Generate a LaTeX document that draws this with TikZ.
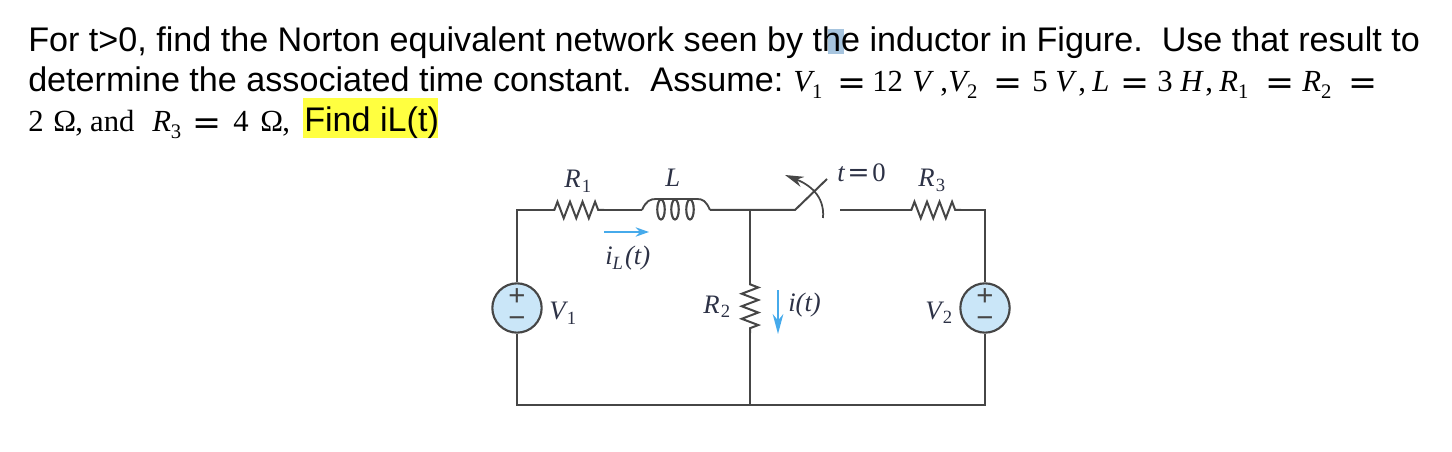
\documentclass[tikz,border=0pt]{standalone}
\usepackage[no-math]{fontspec}
\setmainfont{Liberation Sans}
\newfontfamily\labelfont{Liberation Serif}
\newfontfamily\eqfont{DejaVu Serif}
\usetikzlibrary{arrows.meta,decorations.pathmorphing}
\definecolor{wirecol}{RGB}{70,70,70}
\definecolor{labelcol}{RGB}{45,50,70}
\definecolor{flowblue}{RGB}{70,170,235}
\definecolor{srcfill}{RGB}{202,230,248}
\definecolor{hilite}{RGB}{255,255,64}
\definecolor{selblue}{RGB}{166,196,222}
% one math token in a box of fixed width (px of the reference)
\newcommand{\tok}[2]{\makebox[#1\dimexpr0.75pt\relax][l]{#2}}
\newcommand{\mv}[1]{{\itshape #1}}
\newcommand{\msub}[1]{\raisebox{-0.22em}{\fontsize{15.5}{16}\selectfont #1}}
\newcommand{\meq}{\raisebox{-1.9pt}{\eqfont\fontsize{26}{26}\selectfont =}}
\begin{document}
\begin{tikzpicture}[
    x=0.75pt, y=-0.75pt,
    txt/.style={anchor=base west, inner sep=0pt, font=\fontsize{25.6}{28}\selectfont},
    mth/.style={anchor=base west, inner sep=0pt, font=\labelfont\fontsize{23}{26}\selectfont},
    lab/.style={anchor=base west, inner sep=0pt, text=labelcol, font=\labelfont\itshape\fontsize{20}{22}\selectfont},
    wire/.style={draw=wirecol, line width=1.5pt, line join=miter},
    res/.style={wire, decorate, decoration={zigzag, segment length=9.4pt, amplitude=6.2pt, pre length=1pt, post length=1pt}},
    flow/.style={draw=flowblue, line width=1.4pt},
    src/.style={circle, draw=wirecol, fill=srcfill, line width=1.6pt, minimum size=37pt, inner sep=0pt, align=center, text=wirecol, font=\fontsize{22}{16}\selectfont}
]
\useasboundingbox (0,0) rectangle (1452,452);

% highlights behind the text
\fill[hilite] (303,98) rectangle (438,138);
\fill[selblue] (828,29) rectangle (844,54);

% problem text
\node[txt] (line1) at (28,52) {For t>0, find the Norton equivalent network seen by the inductor in Figure.\ \ Use that result to};
\node[txt] (line2) at (28,92) {determine the associated time constant.\ \ Assume:};
\node[mth] (vals) at (793,92) {\tok{44}{\mv{V}\msub{1}}\tok{35}{\meq}\tok{40}{12}\tok{28}{\mv{V}}\tok{8}{,}\tok{45}{\mv{V}\msub{2}}\tok{39}{\meq}\tok{23}{5}\tok{23}{\mv{V}}\tok{14}{,}\tok{28}{\mv{L}}\tok{37}{\meq}\tok{23}{3}\tok{25}{\mv{H}}\tok{14}{,}\tok{46}{\mv{R}\msub{1}}\tok{37}{\meq}\tok{46}{\mv{R}\msub{2}}\meq};
\node[mth] (line3) at (28,132) {\tok{25}{2}\tok{22}{Ω}\tok{15}{,}\tok{62}{and}\tok{40}{\mv{R}\msub{3}}\tok{41}{\meq}\tok{27}{4}\tok{22}{Ω},};
\node[txt] (find) at (304,132) {Find iL(t)};

% circuit points
\coordinate (tl) at (517,210);
\coordinate (r1a) at (553,210);
\coordinate (r1b) at (604,210);
\coordinate (la) at (642,210);
\coordinate (lb) at (710,210);
\coordinate (jt) at (750,210);
\coordinate (swa) at (795,210);
\coordinate (swb) at (827,179);
\coordinate (swc) at (840,210);
\coordinate (r3a) at (910,210);
\coordinate (r3b) at (961,210);
\coordinate (tr) at (985,210);
\coordinate (r2a) at (750,283);
\coordinate (r2b) at (750,333);
\coordinate (bl) at (517,405);
\coordinate (jb) at (750,405);
\coordinate (br) at (985,405);
\coordinate (arcs) at (823,218);
\coordinate (arce) at (785,175);
\coordinate (fla) at (604,232);
\coordinate (flb) at (649,232);
\coordinate (fia) at (778,290);
\coordinate (fib) at (778,334);

% sources
\node[src] (v1) at (517,308) {+\\\textminus};
\node[src] (v2) at (985,308) {+\\\textminus};

% wires
\draw[wire] (v1) -- (tl) -- (r1a);
\draw[wire] (r1b) -- (la);
\draw[wire] (lb) -- (jt) -- (swa) -- (swb);
\draw[wire] (swc) -- (r3a);
\draw[wire] (r3b) -- (tr) -- (v2);
\draw[wire] (jt) -- (r2a);
\draw[wire] (r2b) -- (jb);
\draw[wire] (v1) -- (bl) -- (br) -- (v2);

% components
\draw[res] (r1a) -- (r1b);
\draw[res] (r3a) -- (r3b);
\draw[res] (r2a) -- (r2b);
% inductor: arch and three loops
\draw[wire, line width=1.4pt] (la) .. controls (646,201) and (650,199) .. (656,199) -- (697,199) .. controls (703,199) and (706,201) .. (lb);
\foreach \lx in {661,675,690}
  \draw[wire, line width=1.6pt] (\lx,209.5) ellipse [x radius=2.8pt, y radius=7.5pt];

% switch arc
\draw[wire, line width=1.3pt, -{Stealth[length=14pt,width=8pt]}] (arcs) .. controls (825,195) and (808,184) .. (arce);

% current arrows
\draw[flow, -{Stealth[length=10pt,width=7pt]}] (fla) -- (flb);
\draw[flow, -{Stealth[length=15pt,width=8pt]}] (fia) -- (fib);

% labels
\node[lab] (lr1) at (564,188) {R\kern1pt\textsubscript{\upshape 1}};
\node[lab] (ll) at (665,187) {L};
\node[lab] (lil) at (605,265) {i\textsubscript{L}\kern1pt(t)};
\node[lab] (lt) at (837,182) {t\kern2pt{\eqfont\upshape\fontsize{20}{20}\selectfont =}\kern2pt{\upshape 0}};
\node[lab] (lr3) at (918,187) {R\kern1pt\textsubscript{\upshape 3}};
\node[lab] (lv1) at (549,320) {V\kern1pt\textsubscript{\upshape 1}};
\node[lab] (lr2) at (703,313) {R\kern1pt\textsubscript{\upshape 2}};
\node[lab] (li) at (788,311) {i(t)};
\node[lab] (lv2) at (925,319) {V\kern1pt\textsubscript{\upshape 2}};
\end{tikzpicture}
\end{document}
